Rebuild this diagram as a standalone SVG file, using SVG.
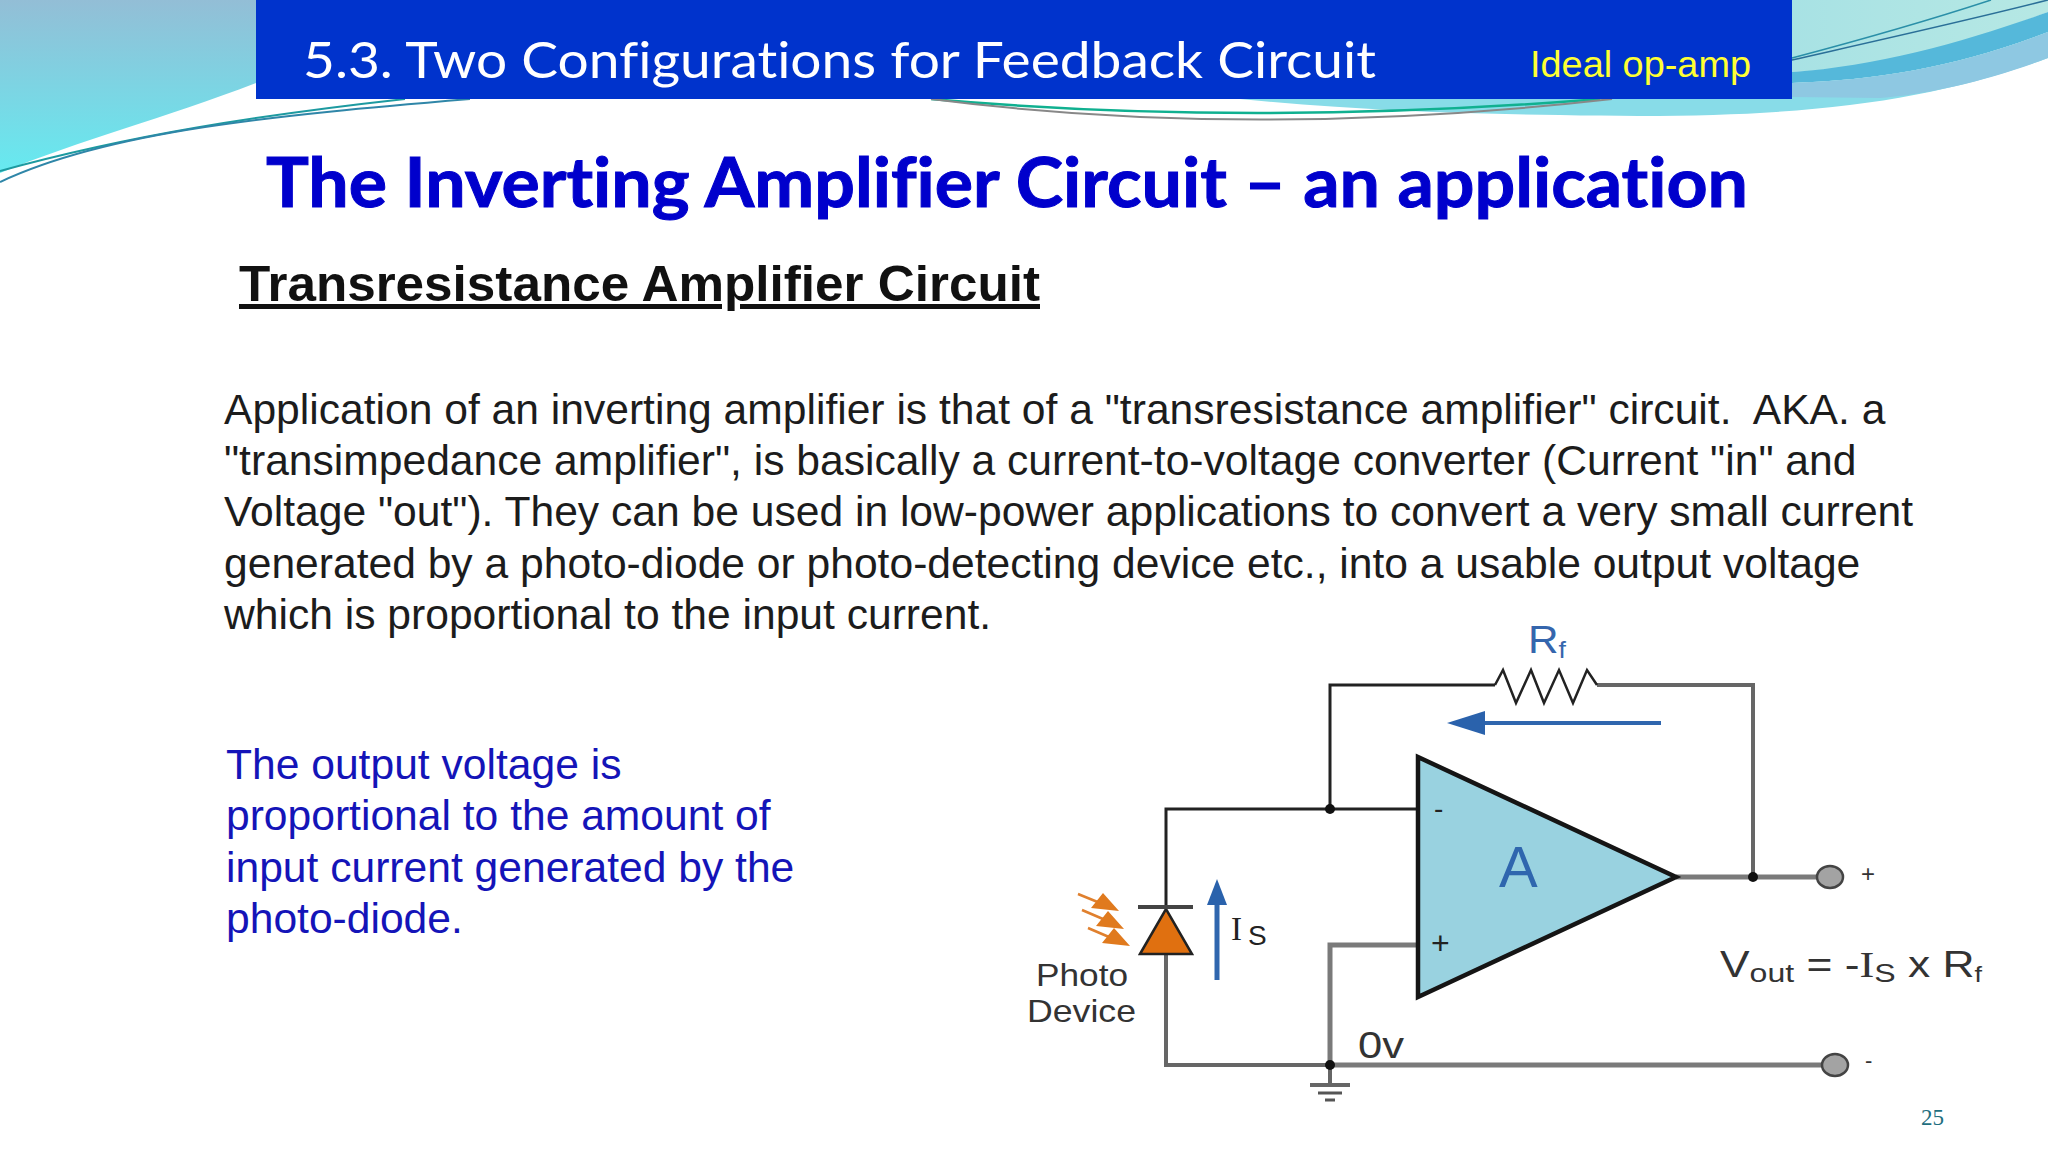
<svg xmlns="http://www.w3.org/2000/svg" width="2048" height="1152" viewBox="0 0 2048 1152">
<style>
text{font-family:"Liberation Sans",Arial,sans-serif;font-variant-ligatures:none;white-space:pre}
.body{font-size:42.6px;fill:#1c1c1c}
.blue{font-size:42.6px;fill:#1414b8}
.w1{fill:none;stroke:#222;stroke-width:3}
.w2{fill:none;stroke:#666;stroke-width:4}
.w3{fill:none;stroke:#7a7a7a;stroke-width:5}
.lbl{font-size:32px;fill:#333}
.term{fill:#a3a3a3;stroke:#444;stroke-width:2.5}
.dot{fill:#111}
.ray{stroke:#e0802e;stroke-width:2.5}
.rayh{fill:#e07a1e}
</style>
<defs>
<linearGradient id="gl" x1="0" y1="0" x2="0" y2="1"><stop offset="0" stop-color="#93bed6"/><stop offset="1" stop-color="#66eaf0"/></linearGradient>
<linearGradient id="gr" x1="0" y1="0" x2="1" y2="0"><stop offset="0" stop-color="#a8e2e4"/><stop offset="1" stop-color="#b6e8e4"/></linearGradient>
</defs>
<rect width="2048" height="1152" fill="#fff"/>
<g id="background">
<path d="M0 0H256V83C165 118 80 140 0 173Z" fill="url(#gl)"/>
<path d="M1792 0H2048V12C1960 46 1870 70 1792 72Z" fill="url(#gr)"/>
<path d="M1792 72C1880 66 1970 40 2048 12V32C1960 66 1880 80 1792 83Z" fill="#55b8da"/>
<path d="M1792 83C1880 80 1960 66 2048 32V58C1920 105 1790 120 1560 115C1460 114 1350 110 1240 99Z" fill="#88dce8"/>
<path d="M2048 32V58C1990 80 1930 94 1880 98L1792 97V83C1880 80 1960 66 2048 32Z" fill="#8ec8e2"/>
<path d="M0 171C130 135 260 115 405 99" fill="none" stroke="#1d9aa0" stroke-width="2"/>
<path d="M0 182C110 130 280 115 470 99" fill="none" stroke="#2f86a8" stroke-width="2"/>
<path d="M931 99Q1250 127 1600 99" fill="none" stroke="#10b090" stroke-width="2.5"/>
<path d="M931 99Q1250 140 1612 99" fill="none" stroke="#888" stroke-width="2"/>
<path d="M1792 58C1860 40 1930 20 1991 0" fill="none" stroke="#2a8fa8" stroke-width="1.5"/>
<path d="M1792 60C1880 40 1970 20 2048 0" fill="none" stroke="#2a6f98" stroke-width="1.5"/>
</g>
<g id="banner">
<rect x="256" width="1536" height="99" fill="#0033cc"/>
<text x="303" y="78" font-size="50" fill="#fff" textLength="1073" lengthAdjust="spacingAndGlyphs" style="font-family:'Lato','Open Sans',sans-serif">5.3. Two Configurations for Feedback Circuit</text>
<text x="1530" y="77" font-size="37" fill="#ffff33" textLength="221" lengthAdjust="spacingAndGlyphs">Ideal op-amp</text>
</g>
<g id="heading">
<text x="266" y="207" font-size="68" font-weight="700" fill="#0000cc" stroke="#0000cc" stroke-width="1" textLength="1482" lengthAdjust="spacingAndGlyphs" style="font-family:'Lato','Open Sans',sans-serif">The Inverting Amplifier Circuit – an application</text>
<text x="239" y="301" font-size="50" font-weight="700" fill="#111" text-decoration="underline" textLength="801" lengthAdjust="spacingAndGlyphs">Transresistance Amplifier Circuit</text>
</g>
<g id="body-text">
<text class="body" x="224" y="424">Application of an inverting amplifier is that of a "transresistance amplifier" circuit.  AKA. a</text>
<text class="body" x="224" y="475">"transimpedance amplifier", is basically a current-to-voltage converter (Current "in" and</text>
<text class="body" x="224" y="526">Voltage "out"). They can be used in low-power applications to convert a very small current</text>
<text class="body" x="224" y="578">generated by a photo-diode or photo-detecting device etc., into a usable output voltage</text>
<text class="body" x="224" y="629">which is proportional to the input current.</text>
</g>
<g id="note">
<text class="blue" x="226" y="779">The output voltage is</text>
<text class="blue" x="226" y="830">proportional to the amount of</text>
<text class="blue" x="226" y="882">input current generated by the</text>
<text class="blue" x="226" y="933">photo-diode.</text>
</g>
<g id="connectors">
<path class="w1" d="M1495 685H1330V809"/>
<path class="w2" d="M1597 685H1753V877"/>
<path class="w1" d="M1166 908V809H1418"/>
<path class="w3" d="M1676 877H1818"/>
<path class="w3" d="M1418 945H1330V1065"/>
<path class="w2" d="M1166 954V1065H1330"/>
<path class="w3" d="M1330 1065H1822"/>
<path class="w2" d="M1330 1065V1084"/>
<circle class="dot" cx="1330" cy="809" r="5"/>
<circle class="dot" cx="1753" cy="877" r="5"/>
<circle class="dot" cx="1330" cy="1065" r="5"/>
</g>
<g id="resistor">
<path d="M1495 685L1503 670L1516 703L1531 670L1544 703L1559 670L1573 703L1587 670L1597 685" fill="none" stroke="#222" stroke-width="2.5"/>
<text x="1528" y="653" font-size="38" fill="#3566ad" textLength="38" lengthAdjust="spacingAndGlyphs">R<tspan dy="5" font-size="24">f</tspan></text>
</g>
<g id="feedback-arrow">
<path d="M1480 723H1661" stroke="#2f66ae" stroke-width="4"/>
<path d="M1447 723L1485 711V735Z" fill="#2a62ac"/>
</g>
<g id="opamp">
<path d="M1418 757V997L1676 877Z" fill="#99d2e0" stroke="#151515" stroke-width="4.5"/>
<text x="1499" y="887" font-size="58" fill="#2f66ae">A</text>
<text x="1434" y="818" font-size="28" fill="#222">-</text>
<text x="1431" y="954" font-size="32" fill="#222">+</text>
</g>
<g id="photodiode">
<path d="M1140 954L1166 909L1192 954Z" fill="#e07010" stroke="#222" stroke-width="2.5"/>
<path d="M1138 907H1193" stroke="#444" stroke-width="4"/>
<path class="ray" d="M1078 894L1105 905M1082 910L1110 922M1088 928L1116 940"/>
<path class="rayh" d="M1119 911L1091 908L1103 893ZM1124 929L1096 926L1108 911ZM1130 946L1102 943L1114 928Z"/>
<path d="M1217 904V980" stroke="#2f66ae" stroke-width="5"/>
<path d="M1217 879L1227 905H1207Z" fill="#2a62ac"/>
<text x="1231" y="940" font-size="33" fill="#222" style="font-family:'Liberation Serif',serif">I<tspan dx="6" dy="5" font-size="28" style="font-family:'Liberation Sans',sans-serif">S</tspan></text>
<text class="lbl" x="1036" y="986" textLength="92" lengthAdjust="spacingAndGlyphs">Photo</text>
<text class="lbl" x="1027" y="1022" textLength="109" lengthAdjust="spacingAndGlyphs">Device</text>
</g>
<g id="output-plus">
<ellipse class="term" cx="1830" cy="877" rx="13" ry="11"/>
<text x="1861" y="882" font-size="24" fill="#333">+</text>
</g>
<g id="output-minus">
<ellipse class="term" cx="1835" cy="1065" rx="13" ry="11"/>
<text x="1865" y="1068" font-size="22" fill="#333">-</text>
</g>
<g id="ground">
<path d="M1310 1085H1350" stroke="#666" stroke-width="4"/>
<path d="M1318 1093H1342" stroke="#555" stroke-width="3"/>
<path d="M1325 1100H1335" stroke="#555" stroke-width="3"/>
<text x="1358" y="1058" font-size="36" fill="#333" textLength="46" lengthAdjust="spacingAndGlyphs">0v</text>
</g>
<g id="formula">
<text x="1720" y="977" font-size="36" fill="#333" textLength="262" lengthAdjust="spacingAndGlyphs">V<tspan font-size="26" dy="5">out</tspan><tspan dy="-5"> = -</tspan><tspan style="font-family:'Liberation Serif',serif">I</tspan><tspan font-size="26" dy="5">S</tspan><tspan dy="-5"> x R</tspan><tspan font-size="22" dy="5">f</tspan></text>
</g>
<text id="page" x="1921" y="1125" font-size="23" fill="#1f6f80" style="font-family:'Liberation Serif',serif">25</text>
</svg>
